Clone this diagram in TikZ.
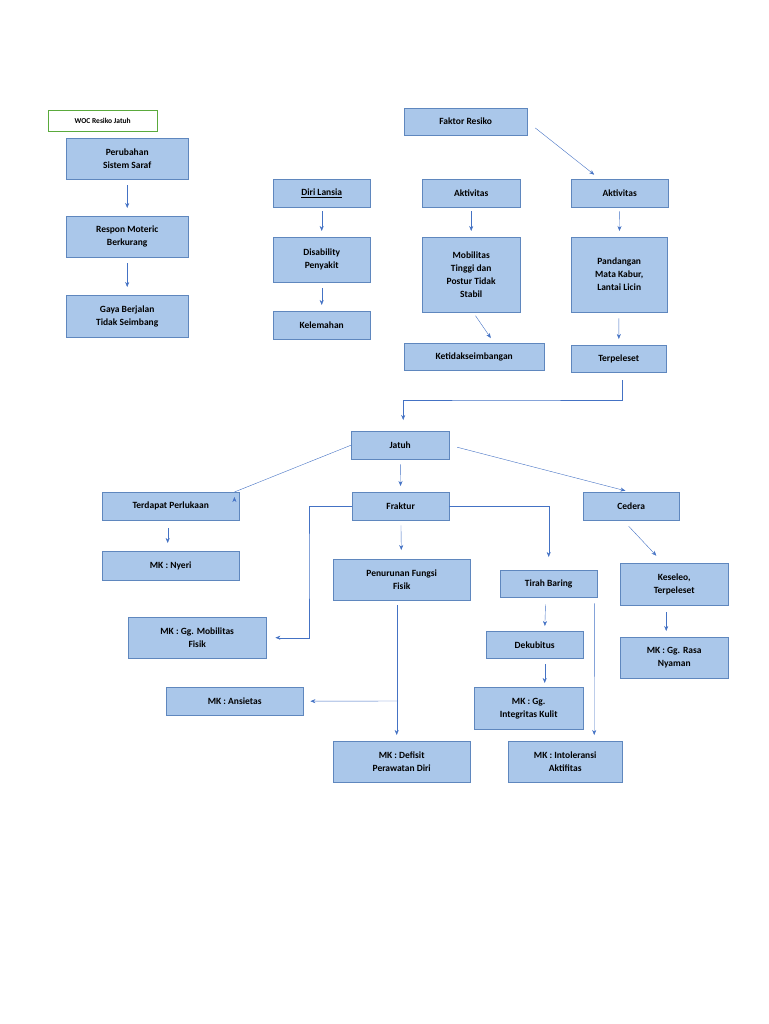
\documentclass[tikz,border=0pt]{standalone}
\usepackage{fontspec}
\setmainfont{Carlito}
\usetikzlibrary{arrows.meta}
\definecolor{boxfill}{RGB}{170,199,234}
\definecolor{boxline}{RGB}{95,135,190}
\definecolor{arrowblue}{RGB}{68,114,196}
\begin{document}
\begin{tikzpicture}[x=1pt,y=-1pt,
  box/.style n args={4}{draw=boxline,fill=boxfill,rectangle,inner sep=0pt,minimum width=#3pt,minimum height=#4pt,align=center,font=\bfseries\fontsize{9.5}{13}\selectfont,anchor=north west,at={(#1,#2)}},
  arr/.style={draw=arrowblue,-{Stealth[length=5pt,width=4pt]}}]
\useasboundingbox (0,0) rectangle (768,1024);
% judul
\node[draw={rgb,255:red,90;green,170;blue,60},fill=white,minimum width=109pt,minimum height=21pt,anchor=north west,font=\bfseries\fontsize{7.5}{9}\selectfont] (judul) at (48,110) {WOC Resiko Jatuh};
% kolom kiri
\node[box={66}{138}{122}{41}] (saraf) {Perubahan\\Sistem Saraf};
\node[box={66}{216}{122}{41}] (respon) {Respon Moteric\\Berkurang};
\node[box={66}{295}{122}{42}] (gaya) {Gaya Berjalan\\Tidak Seimbang};
% faktor resiko
\node[box={404}{108}{123}{27}] (faktor) {Faktor Resiko};
\node[box={273}{179}{97}{28}] (lansia) {\underline{Diri Lansia}};
\node[box={422}{179}{98}{28}] (aktiv1) {Aktivitas};
\node[box={571}{179}{97}{28}] (aktiv2) {Aktivitas};
\node[box={273}{237}{97}{45}] (disab) {Disability\\Penyakit};
\node[box={273}{311}{97}{28}] (lemah) {Kelemahan};
\node[box={422}{237}{98}{75}] (mobil) {Mobilitas\\Tinggi dan\\Postur Tidak\\Stabil};
\node[box={404}{343}{140}{27}] (seimbang) {Ketidakseimbangan};
\node[box={571}{237}{96}{75}] (pandang) {Pandangan\\Mata Kabur,\\Lantai Licin};
\node[box={571}{345}{95}{27}] (peleset) {Terpeleset};
% jatuh
\node[box={351}{431}{98}{28}] (jatuh) {Jatuh};
\node[box={102}{492}{137}{28}] (luka) {Terdapat Perlukaan};
\node[box={352}{492}{97}{28}] (fraktur) {Fraktur};
\node[box={583}{492}{96}{28}] (cedera) {Cedera};
\node[box={102}{551}{137}{29}] (nyeri) {MK : Nyeri};
\node[box={333}{559}{137}{41}] (fungsi) {Penurunan Fungsi\\Fisik};
\node[box={500}{570}{97}{27}] (tirah) {Tirah Baring};
\node[box={620}{563}{108}{42}] (keseleo) {Keseleo,\\Terpeleset};
\node[box={128}{617}{138}{41}] (mkmobil) {MK : Gg. Mobilitas\\Fisik};
\node[box={486}{631}{97}{27}] (dekub) {Dekubitus};
\node[box={620}{637}{108}{41}] (nyaman) {MK : Gg. Rasa\\Nyaman};
\node[box={166}{687}{137}{28}] (ansietas) {MK : Ansietas};
\node[box={474}{687}{109}{42}] (kulit) {MK : Gg.\\Integritas Kulit};
\node[box={333}{741}{137}{41}] (defisit) {MK : Defisit\\Perawatan Diri};
\node[box={508}{741}{114}{41}] (intol) {MK : Intoleransi\\Aktifitas};
% panah
\draw[arr,shorten <=6pt,shorten >=8pt] (saraf) -- (respon);
\draw[arr,shorten <=6pt,shorten >=8pt] (respon) -- (gaya);
\draw[arr,shorten <=10pt,shorten >=7pt] (faktor.east) -- ([xshift=-20pt]aktiv2.north);
\draw[arr,shorten <=4pt,shorten >=6pt] (lansia) -- (disab);
\draw[arr,shorten <=6pt,shorten >=6pt] (disab) -- (lemah);
\draw[arr,shorten <=4pt,shorten >=6pt] (aktiv1) -- (mobil);
\draw[arr,shorten <=4pt,shorten >=6pt] ([xshift=2pt]mobil.south) -- ([xshift=20pt]seimbang.north);
\draw[arr,shorten <=4pt,shorten >=6pt] (aktiv2) -- (pandang);
\draw[arr,shorten <=6pt,shorten >=6pt] (pandang) -- (peleset);
\draw[arr,shorten <=8pt,shorten >=11pt] ([xshift=3pt]peleset.south) |- (500,400) -| ([xshift=3pt]jatuh.north);
\draw[arr,shorten <=8pt,shorten >=5pt] (jatuh.west) -- ([xshift=-5pt]luka.north east|-luka.north) ++(0,0);
\draw[arr,shorten <=5pt,shorten >=6pt] (jatuh) -- (fraktur);
\draw[arr,shorten <=8pt,shorten >=5pt] (jatuh.east) -- ([xshift=-1pt]cedera.north);
\draw[arr,shorten <=8pt,shorten >=8pt] ([xshift=-3pt]luka.south) -- ([xshift=-3pt]nyeri.north);
\draw[arr,shorten >=9pt] (fraktur.west) -| (309,560) |- (mkmobil.east);
\draw[arr,shorten <=5pt,shorten >=9pt] (fraktur) -- (fungsi);
\draw[arr,shorten >=13pt] (fraktur.east) -| (tirah.north);
\draw[arr,shorten <=8pt,shorten >=10pt] ([xshift=-8pt]cedera.south) -- ([xshift=-11pt]keseleo.north);
\draw[arr,shorten <=7pt,shorten >=6pt] ([xshift=-8pt]keseleo.south) -- ([xshift=-8pt]nyaman.north);
\draw[arr,shorten <=5pt,shorten >=6pt] ([xshift=-5pt]fungsi.south) -- ([xshift=-5pt]defisit.north);
\coordinate (cabang) at (398,701);
\draw[arr,shorten >=7pt] (cabang) -- (ansietas.east);
\draw[arr,shorten <=7pt,shorten >=5pt] ([xshift=-3pt]tirah.south) -- ([xshift=10pt]dekub.north);
\draw[arr,shorten <=6pt,shorten >=4pt] ([xshift=10pt]dekub.south) -- ([xshift=16pt]kulit.north);
\draw[arr,shorten <=6pt,shorten >=6pt] ([xshift=-3pt]tirah.south east) -- ([xshift=29pt]intol.north);
\end{tikzpicture}
\end{document}
